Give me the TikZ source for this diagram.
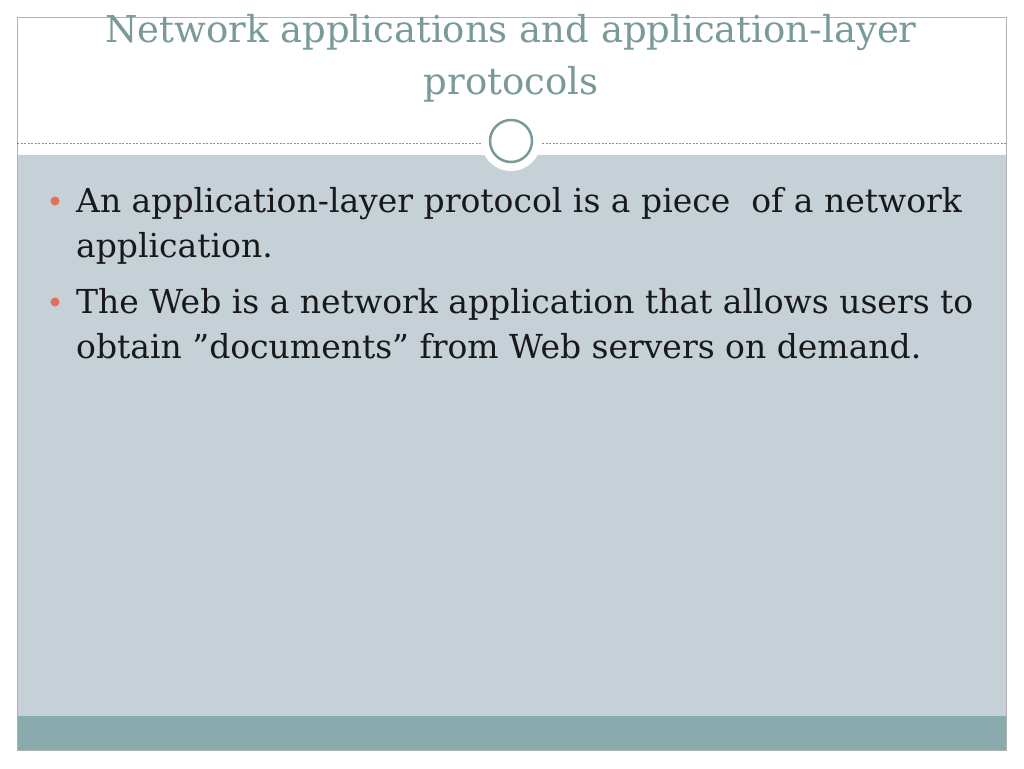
\documentclass[tikz,border=0pt]{standalone}
\usepackage{fontspec}
\setmainfont{DejaVu Serif}[Ligatures=ResetAll]
\definecolor{bodyg}{HTML}{C5D1D7}
\definecolor{band}{HTML}{8AABAD}
\definecolor{titc}{HTML}{7A9A9A}
\definecolor{bul}{HTML}{E0705A}
\begin{document}
\begin{tikzpicture}[x=1pt,y=-1pt,
  tline/.style={font=\fontsize{37}{52}\selectfont,text=titc,anchor=base},
  bline/.style={font=\fontsize{33}{45}\selectfont,text=black!90,anchor=base west,inner sep=0}]
\useasboundingbox (0,0) rectangle (1024,768);
\fill[white] (0,0) rectangle (1024,768);
\fill[bodyg] (17,155) rectangle (1006,716);
\fill[band] (17,716) rectangle (1006,750);
\draw[gray!60,line width=0.8] (17,17) rectangle (1006,750);
\draw[titc,dashed,line width=0.6,dash pattern=on 2pt off 1.5pt] (17,143) -- (1006,143);
\node[circle,fill=white,minimum size=60,inner sep=0] (c) at (511,141) {};
\draw[titc,line width=2.5] (c.center) circle (21);
\node[tline] (t1) at (511,42) {Network applications and application-layer};
\node[tline] (t2) at (511,94) {protocols};
\foreach \y in {201,302} \fill[bul] (55,\y) circle (4.5);
\node[bline] (b1) at (76,212) {An application-layer protocol is a piece\ \ of a network};
\node[bline] (b2) at (76,257) {application.};
\node[bline] (b3) at (76,313) {The Web is a network application that allows users to};
\node[bline] (b4) at (76,358) {obtain "documents" from Web servers on demand.};
\end{tikzpicture}
\end{document}
